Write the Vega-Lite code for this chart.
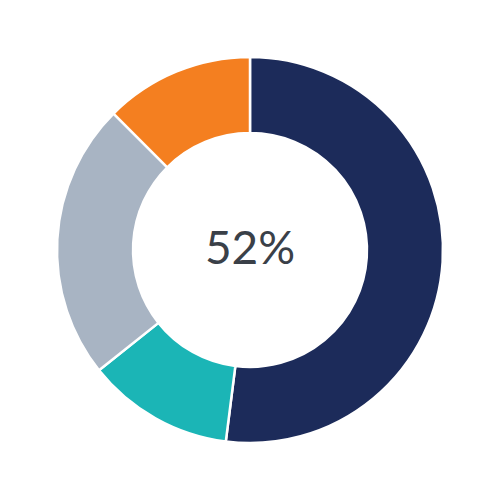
{
  "$schema": "https://vega.github.io/schema/vega-lite/v6.json",
  "width": 500,
  "height": 500,
  "autosize": {"type": "fit", "contains": "padding"},
  "padding": 0,
  "background": "white",
  "config": {"view": {"stroke": null}},
  "data": {"values": [
    {"segment": "A", "value": 52, "order": 1},
    {"segment": "B", "value": 12.3, "order": 2},
    {"segment": "C", "value": 23.2, "order": 3},
    {"segment": "D", "value": 12.5, "order": 4}
  ]},
  "layer": [
    {
      "mark": {"type": "arc", "outerRadius": 193, "innerRadius": 117, "stroke": "white", "strokeWidth": 2.5},
      "encoding": {
        "theta": {"field": "value", "type": "quantitative", "stack": true},
        "order": {"field": "order", "type": "quantitative"},
        "color": {
          "field": "segment", "type": "nominal", "legend": null,
          "scale": {"domain": ["A", "B", "C", "D"], "range": ["#1c2b5a", "#1bb5b6", "#a8b4c3", "#f47f20"]}
        }
      }
    },
    {
      "data": {"values": [{"label": "52%"}]},
      "mark": {"type": "text", "font": "Lato", "fontSize": 46, "fontWeight": 400, "color": "#3a4048", "align": "center", "baseline": "middle", "dy": 0},
      "encoding": {"text": {"field": "label"}}
    }
  ]
}
